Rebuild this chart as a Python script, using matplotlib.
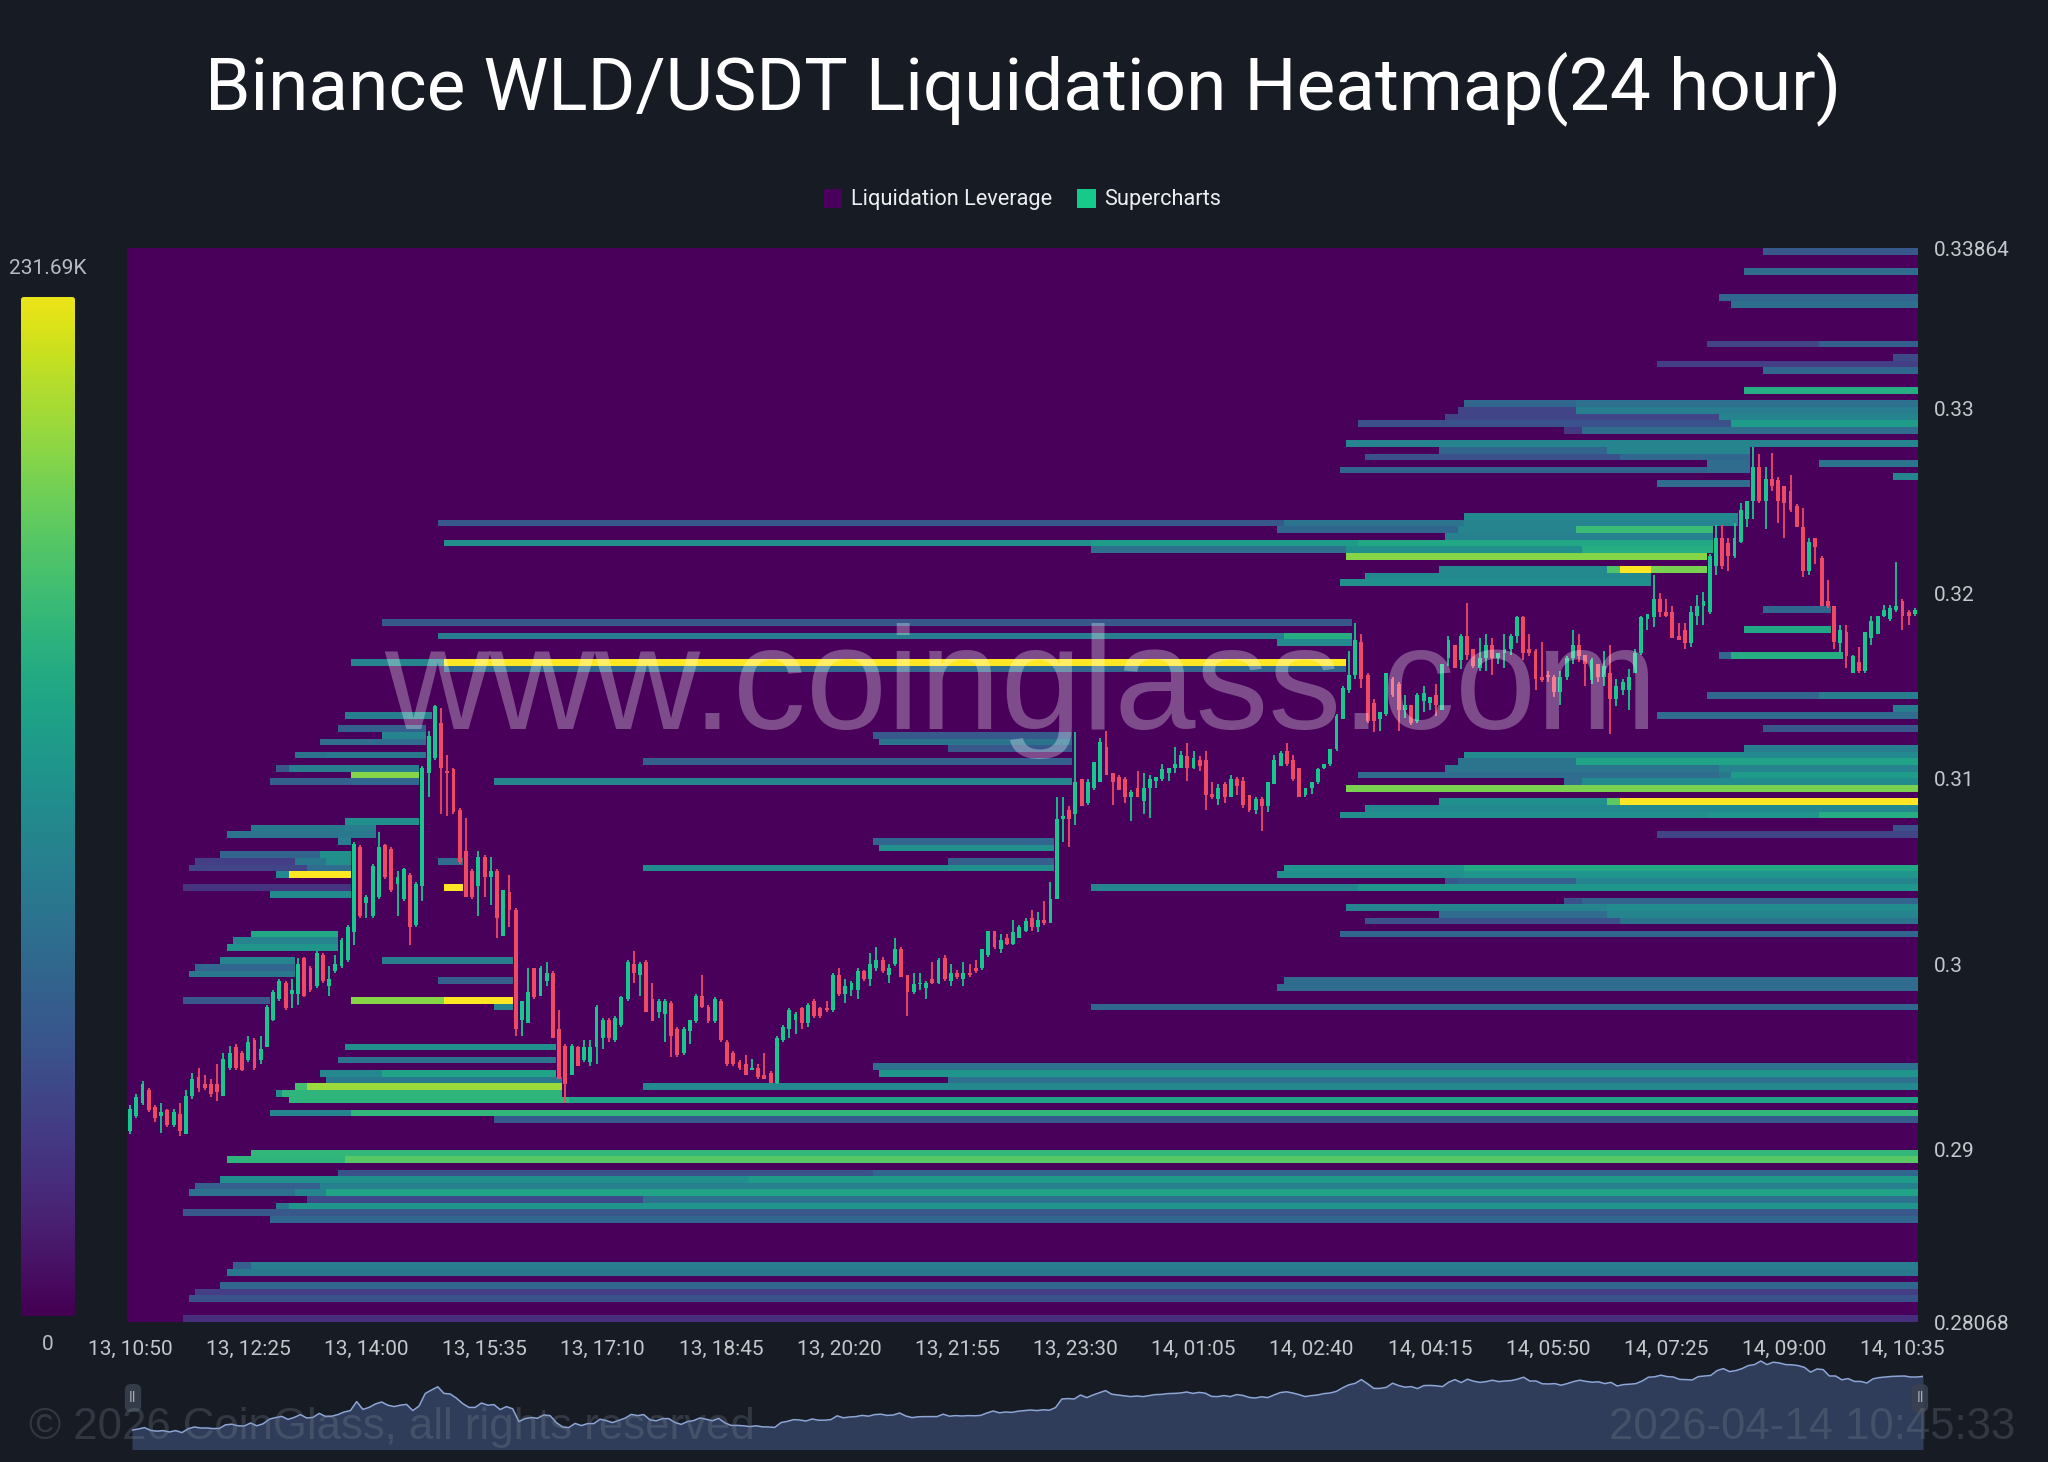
import numpy as np
import matplotlib
matplotlib.use("Agg")
import matplotlib.pyplot as plt
from matplotlib.patches import FancyBboxPatch, Rectangle

W, H = 2048, 1462
BG = "#161b24"
GREEN = "#17c78e"
RED = "#ef4a63"
EMPTY = "#49005a"
FONT = ["Roboto", "DejaVu Sans"]

PRICE_MAX = 0.33864
PRICE_MIN = 0.28068
HEAT_MAX = 231.69  # K
N_ROWS = 162
N_CANDLES = 288

Y_TICKS = [0.33864, 0.33, 0.32, 0.31, 0.30, 0.29, 0.28068]
Y_LABELS = ["0.33864", "0.33", "0.32", "0.31", "0.3", "0.29", "0.28068"]
X_TICKS = list(range(0, 288, 19))
X_LABELS = ["13, 10:50", "13, 12:25", "13, 14:00", "13, 15:35", "13, 17:10", "13, 18:45",
            "13, 20:20", "13, 21:55", "13, 23:30", "14, 01:05", "14, 02:40", "14, 04:15",
            "14, 05:50", "14, 07:25", "14, 09:00", "14, 10:35"]

# candles, price * 10000
OPEN = [2910, 2918, 2925, 2932, 2923, 2918, 2921, 2913, 2919, 2908, 2929, 2939, 2935, 2935, 2935, 2929,
        2944, 2955, 2952, 2948, 2959, 2948, 2955, 2970, 2981, 2990, 2984, 2984, 3003, 2998, 2988, 3005,
        2988, 2996, 2999, 3002, 3017, 3063, 3033, 3026, 3036, 3064, 3062, 3043, 3035, 3048, 3021, 3042,
        3103, 3111, 3130, 3104, 3105, 3083, 3061, 3050, 3042, 3058, 3047, 3050, 3015, 3039, 3029, 2970,
        2968, 2998, 2983, 2991, 2995, 2965, 2956, 2940, 2955, 2948, 2947, 2955, 2960, 2970, 2959, 2967,
        2981, 3000, 2994, 3001, 2981, 2974, 2973, 2979, 2965, 2952, 2964, 2969, 2983, 2977, 2969, 2980,
        2958, 2952, 2947, 2946, 2943, 2944, 2940, 2941, 2936, 2959, 2965, 2970, 2976, 2968, 2980, 2976,
        2976, 2975, 2994, 2984, 2986, 2986, 2996, 2992, 2998, 3002, 2994, 3000, 3008, 2994, 2985, 2989,
        2987, 2992, 2990, 3003, 2991, 2995, 2992, 2995, 2998, 2998, 3005, 3018, 3008, 3014, 3011, 3014,
        3018, 3025, 3020, 3024, 3022, 3035, 3078, 3083, 3081, 3100, 3087, 3095, 3098, 3117, 3103, 3101,
        3100, 3090, 3095, 3088, 3095, 3099, 3100, 3103, 3106, 3106, 3112, 3106, 3110, 3110, 3092, 3089,
        3097, 3090, 3100, 3099, 3091, 3083, 3089, 3085, 3097, 3107, 3115, 3110, 3106, 3091, 3095, 3098,
        3106, 3108, 3116, 3132, 3148, 3156, 3174, 3156, 3141, 3132, 3135, 3154, 3151, 3137, 3140, 3131,
        3142, 3141, 3145, 3137, 3165, 3172, 3164, 3177, 3170, 3160, 3165, 3172, 3165, 3168, 3170, 3177,
        3187, 3170, 3169, 3155, 3156, 3155, 3147, 3155, 3165, 3172, 3167, 3153, 3162, 3155, 3157, 3143,
        3148, 3148, 3157, 3168, 3186, 3187, 3197, 3190, 3190, 3177, 3180, 3173, 3188, 3193, 3190, 3215,
        3230, 3227, 3220, 3228, 3240, 3250, 3268, 3250, 3262, 3261, 3258, 3255, 3247, 3236, 3212, 3230,
        3219, 3196, 3193, 3173, 3179, 3157, 3163, 3158, 3176, 3178, 3188, 3186, 3191, 3196, 3190, 3189]
CLOSE = [2922, 2928, 2935, 2921, 2917, 2920, 2913, 2920, 2910, 2929, 2938, 2933, 2933, 2930, 2931, 2949,
         2952, 2944, 2943, 2958, 2944, 2954, 2977, 2985, 2991, 2976, 2986, 3000, 2983, 2986, 3006, 2991,
         2992, 3000, 3013, 3020, 3065, 3026, 3036, 3053, 3063, 3047, 3040, 3047, 3051, 3020, 3043, 3106,
         3123, 3139, 3106, 3103, 3082, 3055, 3036, 3036, 3058, 3047, 3050, 3025, 3040, 3029, 2965, 2980,
         2985, 2982, 2998, 2995, 2960, 2938, 2935, 2956, 2945, 2955, 2955, 2977, 2970, 2960, 2971, 2982,
         3001, 2995, 3000, 2974, 2969, 2980, 2980, 2961, 2951, 2965, 2970, 2983, 2977, 2969, 2981, 2959,
         2946, 2946, 2944, 2940, 2944, 2939, 2938, 2936, 2960, 2966, 2975, 2973, 2968, 2978, 2972, 2972,
         2975, 2994, 2984, 2988, 2990, 2996, 2992, 3000, 3002, 2996, 2998, 3008, 2993, 2985, 2989, 2990,
         2990, 2990, 3002, 2992, 2995, 2993, 2995, 2994, 2996, 3008, 3018, 3009, 3013, 3011, 3017, 3020,
         3023, 3020, 3024, 3022, 3035, 3078, 3080, 3078, 3098, 3085, 3098, 3109, 3120, 3102, 3098, 3094,
         3090, 3093, 3090, 3095, 3100, 3101, 3105, 3106, 3108, 3113, 3106, 3111, 3107, 3091, 3090, 3095,
         3090, 3100, 3096, 3086, 3083, 3089, 3085, 3098, 3110, 3114, 3108, 3100, 3090, 3095, 3098, 3105,
         3108, 3116, 3134, 3149, 3156, 3175, 3154, 3131, 3131, 3136, 3157, 3145, 3137, 3140, 3130, 3145,
         3146, 3144, 3140, 3162, 3175, 3160, 3177, 3167, 3161, 3165, 3172, 3165, 3168, 3170, 3177, 3187,
         3168, 3168, 3154, 3153, 3155, 3147, 3155, 3165, 3172, 3166, 3162, 3164, 3155, 3161, 3143, 3150,
         3152, 3155, 3168, 3187, 3189, 3197, 3190, 3188, 3176, 3175, 3173, 3190, 3193, 3196, 3220, 3230,
         3215, 3220, 3230, 3245, 3250, 3268, 3250, 3262, 3258, 3250, 3249, 3245, 3236, 3212, 3228, 3225,
         3193, 3193, 3174, 3180, 3166, 3166, 3158, 3179, 3185, 3188, 3191, 3192, 3193, 3188, 3188, 3191]
HIGH = [2924, 2930, 2937, 2933, 2924, 2925, 2922, 2922, 2925, 2932, 2941, 2944, 2940, 2938, 2946, 2952,
        2956, 2957, 2953, 2961, 2960, 2961, 2978, 2986, 2992, 2991, 2992, 3003, 3004, 2999, 3007, 3006,
        2999, 3005, 3014, 3021, 3066, 3064, 3037, 3054, 3071, 3065, 3063, 3050, 3052, 3049, 3044, 3107,
        3126, 3140, 3138, 3113, 3106, 3084, 3079, 3051, 3061, 3059, 3058, 3051, 3040, 3048, 3030, 2980,
        2998, 2998, 2999, 3001, 2996, 2975, 2957, 2957, 2956, 2959, 2959, 2978, 2971, 2971, 2972, 2983,
        3002, 3007, 3001, 3002, 2990, 2981, 2981, 2980, 2966, 2966, 2970, 2984, 2994, 2978, 2982, 2981,
        2959, 2953, 2948, 2951, 2949, 2946, 2952, 2942, 2961, 2967, 2976, 2974, 2977, 2979, 2981, 2977,
        2980, 2995, 2998, 2992, 2991, 2998, 2997, 3006, 3009, 3004, 3000, 3014, 3009, 2994, 2995, 2995,
        2991, 3001, 3003, 3005, 3000, 2997, 3001, 3000, 3002, 3008, 3018, 3018, 3016, 3016, 3024, 3021,
        3025, 3029, 3028, 3034, 3044, 3090, 3090, 3085, 3125, 3100, 3100, 3109, 3122, 3126, 3103, 3102,
        3101, 3094, 3104, 3103, 3102, 3101, 3108, 3106, 3117, 3115, 3119, 3115, 3112, 3115, 3098, 3097,
        3098, 3102, 3101, 3101, 3091, 3090, 3090, 3098, 3113, 3115, 3119, 3113, 3106, 3095, 3098, 3106,
        3108, 3116, 3135, 3150, 3169, 3184, 3178, 3157, 3143, 3136, 3157, 3155, 3152, 3145, 3140, 3146,
        3150, 3144, 3151, 3162, 3177, 3172, 3178, 3195, 3170, 3176, 3178, 3176, 3168, 3178, 3178, 3188,
        3188, 3178, 3170, 3174, 3158, 3156, 3158, 3166, 3180, 3178, 3167, 3165, 3162, 3169, 3172, 3154,
        3154, 3159, 3170, 3188, 3189, 3210, 3200, 3197, 3193, 3184, 3184, 3193, 3199, 3201, 3221, 3237,
        3237, 3230, 3238, 3249, 3250, 3279, 3275, 3268, 3276, 3263, 3258, 3264, 3248, 3246, 3230, 3230,
        3220, 3207, 3193, 3183, 3183, 3167, 3171, 3179, 3188, 3188, 3194, 3194, 3217, 3197, 3191, 3192]
LOW = [2908, 2917, 2924, 2920, 2915, 2909, 2912, 2912, 2907, 2908, 2927, 2931, 2932, 2928, 2926, 2929,
       2943, 2943, 2942, 2947, 2943, 2946, 2955, 2969, 2980, 2975, 2976, 2978, 2982, 2985, 2987, 2990,
       2983, 2995, 2998, 3001, 3010, 3025, 3025, 3025, 3035, 3046, 3039, 3026, 3034, 3010, 3020, 3034,
       3090, 3110, 3081, 3080, 3081, 3054, 3036, 3035, 3026, 3036, 3032, 3014, 3015, 3020, 2961, 2961,
       2968, 2981, 2983, 2988, 2960, 2938, 2925, 2940, 2945, 2947, 2945, 2946, 2954, 2958, 2958, 2966,
       2980, 2990, 2983, 2974, 2969, 2971, 2958, 2950, 2950, 2951, 2957, 2968, 2976, 2968, 2968, 2958,
       2945, 2945, 2943, 2940, 2943, 2938, 2938, 2936, 2935, 2958, 2960, 2962, 2965, 2966, 2971, 2971,
       2974, 2974, 2983, 2979, 2983, 2981, 2991, 2988, 2996, 2995, 2990, 2999, 2993, 2972, 2984, 2986,
       2981, 2989, 2989, 2991, 2988, 2992, 2988, 2993, 2995, 2997, 3004, 3008, 3006, 3010, 3010, 3014,
       3017, 3018, 3017, 3021, 3022, 3035, 3066, 3063, 3075, 3085, 3086, 3094, 3098, 3102, 3086, 3094,
       3087, 3077, 3090, 3081, 3079, 3095, 3099, 3099, 3103, 3106, 3099, 3105, 3104, 3083, 3089, 3086,
       3087, 3090, 3091, 3084, 3082, 3081, 3072, 3082, 3097, 3107, 3107, 3099, 3090, 3090, 3092, 3097,
       3105, 3107, 3115, 3132, 3146, 3154, 3149, 3130, 3125, 3126, 3134, 3144, 3126, 3133, 3129, 3130,
       3136, 3137, 3134, 3137, 3161, 3160, 3159, 3164, 3160, 3158, 3158, 3156, 3162, 3160, 3167, 3173,
       3164, 3166, 3148, 3152, 3152, 3144, 3140, 3153, 3162, 3163, 3150, 3151, 3152, 3150, 3124, 3139,
       3145, 3137, 3157, 3167, 3180, 3182, 3187, 3187, 3176, 3175, 3170, 3171, 3183, 3183, 3189, 3210,
       3213, 3212, 3219, 3227, 3236, 3240, 3249, 3235, 3255, 3238, 3230, 3244, 3236, 3209, 3210, 3216,
       3193, 3192, 3170, 3168, 3160, 3157, 3157, 3157, 3172, 3178, 3187, 3185, 3190, 3180, 3183, 3188]

# heat bands: (row from the top, end candle, [(start candle, share of HEAT_MAX), ...])
BANDS_TOP = [
    (0, 288, [(263, .27)]), (3, 288, [(260, .35)]), (7, 288, [(256, .33)]), (8, 288, [(258, .36)]),
    (14, 288, [(254, .2), (272, .3)]), (16, 288, [(284, .22)]), (17, 288, [(246, .18)]),
    (18, 288, [(263, .33)]), (21, 288, [(260, .62)]), (23, 288, [(215, .33), (233, .37)]),
    (24, 288, [(214, .2), (233, .42)]), (25, 288, [(212, .2), (256, .45)]),
    (26, 288, [(198, .25), (258, .55)]), (27, 288, [(231, .17), (234, .35)]), (29, 288, [(196, .45)]),
    (30, 261, [(211, .32), (238, .45)]), (31, 261, [(199, .25), (240, .33)]), (32, 261, [(254, .35)]),
    (32, 288, [(272, .38)]), (33, 261, [(195, .33), (254, .35)]), (34, 288, [(284, .45)]),
    (35, 261, [(246, .35)]), (40, 259, [(215, .47)]), (41, 259, [(50, .27), (186, .38), (215, .45)]),
    (42, 255, [(185, .33), (214, .45), (233, .68)]), (43, 255, [(212, .43)]),
    (44, 255, [(51, .5), (155, .55), (198, .6)]), (45, 255, [(155, .37), (196, .5), (234, .62)]),
    (46, 254, [(196, .82)]), (48, 254, [(211, .47), (238, .72), (240, 1.0), (245, .8)]),
    (49, 245, [(199, .47)]), (50, 245, [(195, .5)]),
]
BANDS_MID = [
    (54, 274, [(263, .33)]), (56, 197, [(41, .27)]), (57, 274, [(260, .6)]),
    (58, 197, [(50, .42), (186, .62)]), (59, 197, [(185, .47)]), (61, 276, [(256, .33), (258, .62)]),
    (62, 196, [(36, .45), (51, 1.0)]), (63, 196, [(51, .33)]), (67, 288, [(254, .33), (272, .42)]),
    (69, 288, [(284, .42)]), (70, 49, [(35, .42), (45, .45)]), (70, 288, [(246, .35)]),
    (72, 48, [(34, .3)]), (72, 288, [(263, .27)]), (73, 48, [(41, .45)]), (73, 152, [(120, .28)]),
    (74, 48, [(31, .35)]), (74, 152, [(121, .38)]), (75, 152, [(132, .27)]), (75, 288, [(260, .42)]),
    (76, 48, [(27, .38), (32, .4)]), (76, 288, [(215, .48), (260, .47)]), (77, 152, [(83, .3)]),
    (77, 288, [(214, .38), (233, .58)]), (78, 47, [(24, .27), (26, .42)]),
    (78, 288, [(212, .38), (256, .45)]), (79, 47, [(36, .82)]),
    (79, 288, [(198, .35), (256, .4), (258, .55)]), (80, 47, [(23, .3), (36, .33)]),
    (80, 152, [(59, .45)]), (80, 288, [(231, .35), (234, .48)]), (81, 288, [(196, .8)]),
    (83, 288, [(211, .5), (238, .75), (240, 1.0)]), (84, 288, [(199, .47)]),
    (85, 288, [(195, .5), (254, .52), (272, .62)]), (86, 47, [(35, .5)]),
    (87, 40, [(20, .4), (35, .42)]), (87, 288, [(284, .25)]), (88, 40, [(16, .38), (34, .4)]),
    (88, 288, [(246, .2)]), (89, 36, [(34, .42)]), (89, 149, [(120, .33)]), (90, 149, [(121, .5)]),
    (91, 36, [(15, .32), (31, .5)]), (92, 36, [(11, .18), (27, .4), (32, .5)]), (92, 54, [(50, .35)]),
    (92, 149, [(132, .3)]), (93, 36, [(10, .2), (29, .35)]), (93, 149, [(83, .48), (132, .5)]),
    (93, 288, [(186, .52), (215, .6)]), (94, 36, [(24, .47), (26, 1.0)]),
    (94, 288, [(185, .5), (215, .52)]), (95, 288, [(212, .27), (214, .3), (233, .45)]),
    (96, 36, [(9, .15)]), (96, 54, [(51, 1.0)]), (96, 288, [(155, .45), (198, .52)]),
    (97, 36, [(23, .48)]), (98, 288, [(231, .25), (234, .32)]), (99, 288, [(196, .45), (238, .48)]),
    (100, 288, [(211, .35), (238, .45)]), (101, 288, [(199, .25), (240, .38)]),
    (103, 34, [(20, .6)]), (103, 288, [(195, .33)]), (104, 34, [(17, .45)]), (105, 34, [(16, .52)]),
    (107, 27, [(15, .45)]), (107, 62, [(41, .42)]), (108, 27, [(11, .33)]), (109, 27, [(10, .4)]),
    (110, 62, [(50, .3)]), (110, 288, [(186, .35)]), (111, 288, [(185, .35)]), (113, 23, [(9, .27)]),
    (113, 62, [(36, .82), (51, 1.0)]), (114, 62, [(59, .45)]), (114, 288, [(155, .33)]),
]
BANDS_LOW = [
    (120, 69, [(35, .5)]), (122, 69, [(34, .38)]), (123, 288, [(120, .37)]),
    (124, 69, [(31, .47), (41, .58)]), (124, 288, [(121, .52)]), (125, 70, [(32, .4)]),
    (125, 288, [(132, .37)]), (126, 70, [(27, .7), (29, .85)]), (126, 288, [(83, .47)]),
    (127, 70, [(24, .5), (25, .65)]), (128, 71, [(26, .65)]), (128, 288, [(71, .58)]),
    (130, 288, [(23, .45), (36, .66)]), (131, 288, [(59, .28)]), (136, 288, [(20, .66)]),
    (137, 288, [(16, .65), (35, .74)]), (139, 288, [(34, .25), (120, .33)]),
    (140, 288, [(15, .5), (100, .55)]), (141, 288, [(11, .3), (31, .43)]),
    (142, 288, [(10, .37), (27, .45), (32, .58)]), (143, 288, [(29, .22), (83, .37)]),
    (144, 288, [(24, .4), (26, .52)]), (145, 288, [(9, .27)]), (146, 288, [(23, .33)]),
    (153, 288, [(17, .3), (20, .42)]), (154, 288, [(16, .4)]), (156, 288, [(15, .33)]),
    (157, 288, [(11, .18)]), (158, 288, [(10, .25)]), (161, 288, [(9, .13)]),
]


def px_axes(fig, x0, y0, x1, y1, **kwargs):
    return fig.add_axes([x0 / W, 1 - y1 / H, (x1 - x0) / W, (y1 - y0) / H], **kwargs)


def fig_text(fig, x, y, s, **kwargs):
    kwargs.setdefault("family", FONT)
    return fig.text(x / W, 1 - y / H, s, **kwargs)


def build_grid():
    grid = np.zeros((N_ROWS, N_CANDLES))
    for row, end, segments in BANDS_TOP + BANDS_MID + BANDS_LOW:
        for k, (start, share) in enumerate(segments):
            stop = segments[k + 1][0] if k + 1 < len(segments) else end
            grid[row, start:stop] = share * HEAT_MAX
    return grid


def draw_candles(ax):
    xs = np.arange(N_CANDLES)
    opens = np.array(OPEN) / 1e4
    closes = np.array(CLOSE) / 1e4
    colors = [GREEN if c >= o else RED for o, c in zip(opens, closes)]
    ax.vlines(xs, np.array(LOW) / 1e4, np.array(HIGH) / 1e4, colors=colors, linewidth=1.3, zorder=3)
    ax.bar(xs, np.abs(closes - opens), bottom=np.minimum(opens, closes), width=0.62,
           color=colors, linewidth=0, zorder=4)


def draw_slider(fig):
    ax = px_axes(fig, 132, 1340, 1923, 1449, facecolor="#1a2133", zorder=0)
    closes = np.array(CLOSE) / 1e4
    xs = np.arange(N_CANDLES)
    ax.fill_between(xs, closes, 0, color="#2f3d5a", linewidth=0)
    ax.plot(xs, closes, color="#8ea6d6", linewidth=1.1)
    ax.set_xlim(0, N_CANDLES - 1)
    ax.set_ylim(0.2828, 0.3373)
    ax.axis("off")
    for x in (133, 1920):
        fig.add_artist(FancyBboxPatch((x / W - 0.004, 1 - 1412 / H), 0.008, 28 / H,
                                      boxstyle="round,pad=0,rounding_size=0.003",
                                      transform=fig.transFigure, facecolor="#3a4150",
                                      edgecolor="none", alpha=0.85, mutation_aspect=W / H))
        fig_text(fig, x, 1398, "II", color="#a8adb5", fontsize=10, ha="center", va="center")


def draw_colorbar(fig):
    ax = px_axes(fig, 21, 297, 75, 1316)
    ramp = np.linspace(0.97, 0, 256).reshape(-1, 1)
    im = ax.imshow(ramp, aspect="auto", cmap="viridis", vmin=0, vmax=1, extent=(0, 1, 0, 1))
    clip = FancyBboxPatch((0, 0), 1, 1, boxstyle="round,pad=0,rounding_size=0.05",
                          transform=ax.transAxes, mutation_aspect=54 / 1019)
    im.set_clip_path(clip)
    ax.axis("off")
    fig_text(fig, 48, 268, "231.69K", color="#b9bdc3", fontsize=15, ha="center", va="center")
    fig_text(fig, 48, 1345, "0", color="#b9bdc3", fontsize=15, ha="center", va="center")


def draw_legend(fig):
    fig.add_artist(Rectangle((824 / W, 1 - 208 / H), 18 / W, 19 / H, transform=fig.transFigure,
                             facecolor=EMPTY, edgecolor="none"))
    fig_text(fig, 851, 200, "Liquidation Leverage", color="#eceef0", fontsize=15.7, va="center")
    fig.add_artist(Rectangle((1077 / W, 1 - 208 / H), 19 / W, 19 / H, transform=fig.transFigure,
                             facecolor="#17c98a", edgecolor="none"))
    fig_text(fig, 1104, 200, "Supercharts", color="#eceef0", fontsize=15.7, va="center")


def main():
    fig = plt.figure(figsize=(W / 100, H / 100), dpi=100, facecolor=BG)

    fig_text(fig, 1023, 89, "Binance WLD/USDT Liquidation Heatmap(24 hour)", color="white",
             fontsize=52.6, ha="center", va="center")
    draw_legend(fig)
    draw_slider(fig)

    ax = px_axes(fig, 127, 248, 1918, 1322, facecolor=EMPTY, zorder=2)
    x_edges = np.arange(N_CANDLES + 1) - 0.5
    y_edges = np.linspace(PRICE_MAX, PRICE_MIN, N_ROWS + 1)
    cmap = plt.get_cmap("viridis").copy()
    cmap.set_under(EMPTY)
    ax.pcolormesh(x_edges, y_edges, build_grid(), cmap=cmap, vmin=0.01, vmax=HEAT_MAX,
                  antialiased=False, linewidth=0, rasterized=True)
    draw_candles(ax)

    ax.set_xlim(-0.5, N_CANDLES - 0.5)
    ax.set_ylim(PRICE_MIN, PRICE_MAX)
    ax.set_xticks(X_TICKS, X_LABELS, family=FONT)
    ax.yaxis.tick_right()
    ax.set_yticks(Y_TICKS, Y_LABELS, family=FONT)
    ax.tick_params(axis="both", length=0, labelsize=15, labelcolor="#c4c7cb")
    ax.tick_params(axis="x", pad=13)
    ax.tick_params(axis="y", pad=11.5)
    for spine in ax.spines.values():
        spine.set_visible(False)

    draw_colorbar(fig)

    # watermarks sit above everything
    fig_text(fig, 1021, 729, "www.coinglass.com", family="Liberation Sans", color="white", alpha=0.3,
             fontsize=105, ha="center", va="baseline", zorder=10)
    fig_text(fig, 29, 1439, "© 2026 CoinGlass, all rights reserved", family="Liberation Sans",
             color="#7d8592", alpha=0.28, fontsize=31.5, ha="left", va="baseline", zorder=10)
    fig_text(fig, 2015, 1439, "2026-04-14 10:45:33", family="Liberation Sans", color="#7d8592",
             alpha=0.28, fontsize=31.5, ha="right", va="baseline", zorder=10)

    fig.savefig("out.png", dpi=100, facecolor=BG)


if __name__ == "__main__":
    main()
